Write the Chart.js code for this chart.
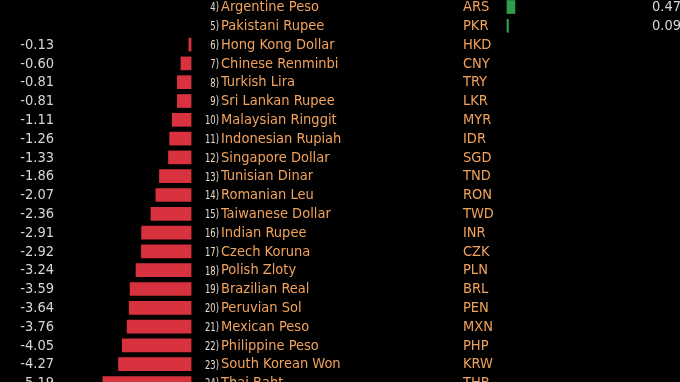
<!DOCTYPE html>
<html>
<head>
<meta charset="utf-8">
<script src="https://cdn.jsdelivr.net/npm/chart.js@4/dist/chart.umd.min.js"></script>
<style>
  html, body { margin: 0; padding: 0; background: #000; overflow: hidden; }
  #wrap { position: relative; width: 680px; height: 382px; }
</style>
</head>
<body>
<div id="wrap"><canvas id="chart" width="680" height="382"></canvas></div>
<script>
/* ============================================================
   EM currency performance board (Bloomberg style)
   ============================================================ */

const ranks = [4, 5, 6, 7, 8, 9, 10, 11, 12, 13, 14, 15, 16, 17, 18, 19, 20, 21, 22, 23, 24];
const names = [
    'Argentine Peso', 'Pakistani Rupee', 'Hong Kong Dollar', 'Chinese Renminbi',
    'Turkish Lira', 'Sri Lankan Rupee', 'Malaysian Ringgit', 'Indonesian Rupiah',
    'Singapore Dollar', 'Tunisian Dinar', 'Romanian Leu', 'Taiwanese Dollar',
    'Indian Rupee', 'Czech Koruna', 'Polish Zloty', 'Brazilian Real',
    'Peruvian Sol', 'Mexican Peso', 'Philippine Peso', 'South Korean Won', 'Thai Baht',
];
const codes = [
    'ARS', 'PKR', 'HKD', 'CNY', 'TRY', 'LKR', 'MYR', 'IDR', 'SGD', 'TND', 'RON',
    'TWD', 'INR', 'CZK', 'PLN', 'BRL', 'PEN', 'MXN', 'PHP', 'KRW', 'THB',
];
const changes = [
    0.47, 0.09, -0.13, -0.60, -0.81, -0.81, -1.11, -1.26, -1.33, -1.86, -2.07,
    -2.36, -2.91, -2.92, -3.24, -3.59, -3.64, -3.76, -4.05, -4.27, -5.19,
];

const colors = {
    bg: '#000000',
    red: '#d9323f',
    green: '#2f9e4c',
    name: '#f1a25c',
    num: '#e6dccb',
    value: '#d6d6d6',
};

const FONT = "'DejaVu Sans Condensed', 'DejaVu Sans', sans-serif";

const negData = ranks.map((r, i) => ({ x: changes[i] < 0 ? changes[i] : null, y: r }));
const posData = ranks.map((r, i) => ({ x: changes[i] > 0 ? changes[i] : null, y: r }));

// draws the rank, name, code and value columns next to each row
const boardText = {
    id: 'boardText',
    afterDatasetsDraw(chart) {
        const { ctx } = chart;
        const y = chart.scales.y;
        ctx.save();
        ctx.textBaseline = 'middle';
        ranks.forEach((r, i) => {
            const py = y.getPixelForValue(r) + 0.5;

            // narrow rank number
            ctx.save();
            ctx.font = '13px ' + FONT;
            ctx.fillStyle = colors.num;
            ctx.textAlign = 'right';
            ctx.translate(219, py + 0.5);
            ctx.scale(0.72, 1);
            ctx.fillText(r + ')', 0, 0);
            ctx.restore();

            ctx.font = '14.5px ' + FONT;
            ctx.fillStyle = colors.name;
            ctx.textAlign = 'left';
            ctx.fillText(names[i], 221, py);
            ctx.fillText(codes[i], 463, py);

            ctx.fillStyle = colors.value;
            ctx.textAlign = 'right';
            const v = changes[i].toFixed(2);
            if (changes[i] < 0) ctx.fillText(v, 54, py);
            else ctx.fillText(v, 681, py);
        });
        ctx.restore();
    },
};

const bgPlugin = {
    id: 'bg',
    beforeDraw(chart) {
        const { ctx } = chart;
        ctx.save();
        ctx.fillStyle = colors.bg;
        ctx.fillRect(0, 0, chart.width, chart.height);
        ctx.restore();
    },
};

new Chart(document.getElementById('chart').getContext('2d'), {
    type: 'bar',
    data: {
        datasets: [
            {
                label: 'Down',
                data: negData,
                xAxisID: 'xl',
                backgroundColor: colors.red,
                borderWidth: 0,
                barThickness: 13,
                grouped: false,
            },
            {
                label: 'Up',
                data: posData,
                xAxisID: 'xr',
                backgroundColor: colors.green,
                borderWidth: 0,
                barThickness: 13,
                grouped: false,
            },
        ],
    },
    options: {
        indexAxis: 'y',
        responsive: false,
        animation: false,
        layout: { padding: 0 },
        plugins: { legend: { display: false }, tooltip: { enabled: false } },
        scales: {
            y: { type: 'linear', reverse: true, offset: false, min: 3.628, max: 23.947, display: false, grid: { display: false } },
            xl: { type: 'linear', position: 'bottom', min: -11.24, max: 28.76, display: false, grid: { display: false } },
            xr: { type: 'linear', position: 'bottom', min: -29.82, max: 10.18, display: false, grid: { display: false } },
        },
    },
    plugins: [bgPlugin, boardText],
});
</script>
</body>
</html>
